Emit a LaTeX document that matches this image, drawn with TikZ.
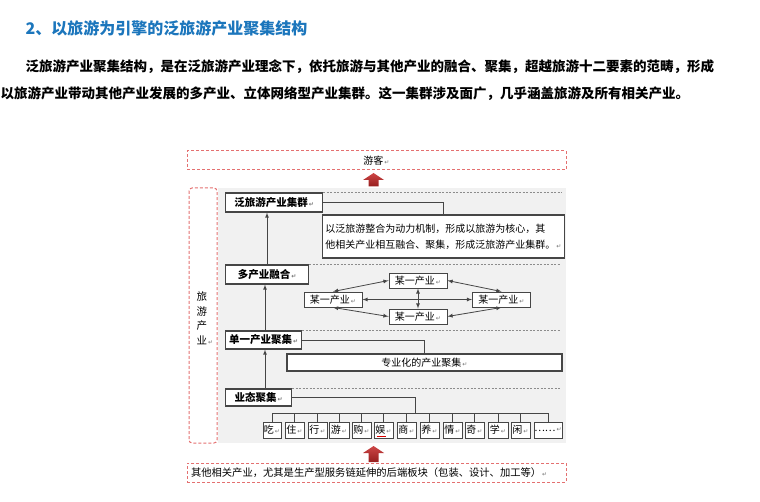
\documentclass[tikz,border=0pt]{standalone}
\usepackage{fontspec}
\setmainfont{Noto Sans CJK SC}
\newfontfamily\retfont{DejaVu Sans}
\usepackage{xcolor}
\usetikzlibrary{arrows}
\usetikzlibrary{positioning, math}

\definecolor{titleblue}{RGB}{28,118,188}
\definecolor{dashred}{RGB}{228,112,112}
\definecolor{panelgray}{RGB}{241,241,241}
\definecolor{lineGray}{RGB}{70,70,70}
\definecolor{arrowRed}{RGB}{150,30,30}
\definecolor{arrowRedLight}{RGB}{205,70,70}

\newcommand{\retmark}{{\retfont\fontsize{6}{6}\selectfont\textcolor{black!55}{\,↵}}}
\newcommand{\fsz}[1]{\fontsize{#1}{#1}\selectfont}

\tikzset{
  redframe/.style={draw=dashred, dash pattern=on 3pt off 2pt, line width=1pt},
  graydash/.style={draw=black!45, dash pattern=on 2pt off 1.5pt, line width=0.8pt},
  levelbox/.style={draw=lineGray, fill=white, line width=1.1pt, inner sep=0pt, font=\fsz{10.5}\bfseries, anchor=west},
  itembox/.style={draw=lineGray, fill=white, line width=0.9pt, inner sep=0pt, minimum width=58pt, minimum height=15pt, font=\fsz{10}},
  cellbox/.style={draw=lineGray, fill=white, line width=0.9pt, inner sep=0pt, minimum height=16pt, font=\fsz{10}},
  link/.style={draw=lineGray, line width=0.8pt},
}

\begin{document}
\begin{tikzpicture}[x=1pt, y=-1pt]
\useasboundingbox (0,0) rectangle (760,502);

% heading and text
\node[anchor=west, text=titleblue, font=\fsz{16}\bfseries] (T) at (22,28) {2、以旅游为引擎的泛旅游产业聚集结构};
\node[anchor=west, font=\fsz{13.5}\bfseries] (P1) at (22,67) {泛旅游产业聚集结构，是在泛旅游产业理念下，依托旅游与其他产业的融合、聚集，超越旅游十二要素的范畴，形成};
\node[anchor=west, font=\fsz{13.5}\bfseries] (P2) at (-3,94) {以旅游产业带动其他产业发展的多产业、立体网络型产业集群。这一集群涉及面广，几乎涵盖旅游及所有相关产业。};

% frames
\fill[panelgray] (218,188) rectangle (566,443);
\node[redframe, fill=white, minimum width=379pt, minimum height=19pt, inner sep=0pt, font=\fsz{10}] (G) at (376.5,160.5) {游客\retmark};
\draw[redframe, rounded corners=3pt] (189,188) rectangle (217,443);
\node[align=left, inner sep=0pt, font=\fontsize{10.5}{14.5}\selectfont] (V) at (205,318) {旅\\游\\产\\业\retmark};
\node[redframe, fill=white, text width=371pt, inner xsep=4pt, inner ysep=0pt, minimum height=19pt, align=left, font=\fsz{10.3}] (O) at (376.5,472.5) {其他相关产业，尤其是生产型服务链延伸的后端板块（包装、设计、加工等）\retmark};

% red arrows
\coordinate (A1) at (373.5,173);
\coordinate (A2) at (373.5,446);
\shade[top color=arrowRedLight, bottom color=arrowRed] (A1) -- ++(10.5,7) -- ++(-5.5,0) -- ++(0,6.5) -- ++(-10,0) -- ++(0,-6.5) -- ++(-5.5,0) -- cycle;
\shade[top color=arrowRedLight, bottom color=arrowRed] (A2) -- ++(10.5,7) -- ++(-5.5,0) -- ++(0,9) -- ++(-10,0) -- ++(0,-9) -- ++(-5.5,0) -- cycle;

% levels
\node[levelbox, minimum width=97pt, minimum height=19pt] (L4) at (225,202.5) {泛旅游产业集群\retmark};
\node[levelbox, minimum width=83pt, minimum height=19pt] (L3) at (225,274.5) {多产业融合\retmark};
\node[levelbox, minimum width=76pt, minimum height=18pt] (L2) at (225,340) {单一产业聚集\retmark};
\node[levelbox, minimum width=66pt, minimum height=17pt] (L1) at (225,397.5) {业态聚集\retmark};

\draw[graydash] (L4.north east) -- (L4.north east -| 562,0);
\draw[graydash] (L3.north east) -- (L3.north east -| 560,0);
\draw[graydash] (L2.north east) -- (L2.north east -| 560,0);
\draw[graydash] (L1.north east) -- (L1.north east -| 560,0);

\draw[link, -latex] ([xshift=40pt]L1.north west) -- ([xshift=40pt]L2.south west);
\draw[link, -latex] ([xshift=40pt]L2.north west) -- ([xshift=40pt]L3.south west);
\draw[link, -latex] ([xshift=42pt]L3.north west) -- ([xshift=42pt]L4.south west);

% cluster
\node[draw=lineGray, fill=white, line width=1.1pt, minimum width=235pt, minimum height=43pt, align=left, font=\fontsize{10}{16}\selectfont] (D) at (443.5,236.5) {以泛旅游整合为动力机制，形成以旅游为核心，其\\他相关产业相互融合、聚集，形成泛旅游产业集群。\retmark};
\draw[link] (L4.east) -| (D.north);

% network
\node[itembox] (M1) at (418,280.5) {某一产业\retmark};
\node[itembox] (M2) at (333,299.5) {某一产业\retmark};
\node[itembox] (M3) at (501.5,299.5) {某一产业\retmark};
\node[itembox] (M4) at (418,316.5) {某一产业\retmark};
\draw[link, latex-latex] (M2.north) -- (M1.west);
\draw[link, latex-latex] (M2.south) -- (M4.west);
\draw[link, latex-latex] (M1.east) -- (M3.north);
\draw[link, latex-latex] (M4.east) -- (M3.south);
\draw[link, latex-latex] (M2.east) -- (M3.west);
\draw[link, latex-latex] (M1.south) -- (M4.north);

% single
\node[draw=lineGray, fill=white, line width=1.1pt, minimum width=275pt, minimum height=17pt, inner sep=0pt, font=\fsz{10}] (Z) at (424.5,362.5) {专业化的产业聚集\retmark};
\draw[link] (L2.east) -| (Z.north);

% business forms
\foreach \i/\x/\w/\c in {1/272/18/吃, 2/294.5/19/住, 3/317.5/19/行, 4/339/20/游, 5/361.5/19/购, 6/383.5/19/娱, 7/406.5/19/商, 8/429.5/19/养, 9/452.5/19/情, 10/474.5/19/奇, 11/498/20/学, 12/520.5/19/闲, 13/548/28/……}{
  \node[cellbox, minimum width=\w*1pt] (S\i) at (\x,430) {\c\retmark};
}
\coordinate (B) at (415,413);
\draw[link] (L1.east) -| (B);
\draw[link] (S1.north |- B) -- (S13.north |- B);
\foreach \i in {1,...,13}
  \draw[link] (S\i.north |- B) -- (S\i.north);
\draw[red!85!black, line width=0.5pt] ([shift={(-7,6.5)}]S6.center) -- ([shift={(2,6.5)}]S6.center);

\end{tikzpicture}
\end{document}
